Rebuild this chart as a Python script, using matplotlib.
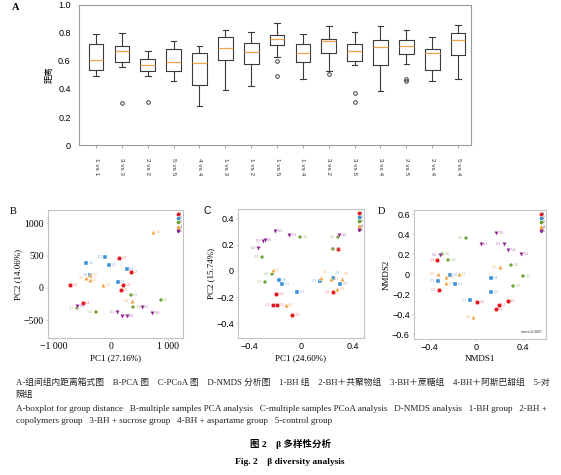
import matplotlib
matplotlib.use('Agg')
import matplotlib.pyplot as plt
from matplotlib.lines import Line2D

SERIF = ['Liberation Serif', 'Noto Sans CJK SC']
SANS = ['Liberation Sans', 'Noto Sans CJK SC']
plt.rcParams['font.family'] = SERIF
plt.rcParams['axes.unicode_minus'] = True

# ---------------------------------------------------------------------------
# Panel A: box statistics
# ---------------------------------------------------------------------------
PAIRS = ['1 vs 1', '3 vs 3', '2 vs 2', '5 vs 5', '4 vs 4', '1 vs 3', '1 vs 2', '1 vs 5',
         '1 vs 4', '3 vs 2', '3 vs 5', '3 vs 4', '2 vs 5', '2 vs 4', '5 vs 4']
A_WHISLO = [0.49, 0.555, 0.49, 0.46, 0.28, 0.395, 0.42, 0.63, 0.47, 0.53, 0.57, 0.385, 0.58, 0.455, 0.47]
A_Q1 = [0.535, 0.59, 0.53, 0.53, 0.43, 0.605, 0.58, 0.715, 0.59, 0.66, 0.60, 0.575, 0.65, 0.535, 0.64]
A_MED = [0.605, 0.675, 0.57, 0.59, 0.585, 0.69, 0.665, 0.76, 0.66, 0.74, 0.67, 0.70, 0.705, 0.655, 0.75]
A_Q3 = [0.72, 0.71, 0.615, 0.685, 0.66, 0.775, 0.73, 0.785, 0.72, 0.755, 0.725, 0.75, 0.75, 0.685, 0.80]
A_WHISHI = [0.79, 0.80, 0.67, 0.74, 0.71, 0.825, 0.81, 0.875, 0.79, 0.85, 0.805, 0.85, 0.825, 0.77, 0.86]
A_FLIERS = [[], [0.30], [0.31], [], [], [], [], [0.60, 0.49], [], [0.505], [0.37, 0.31], [],
            [0.47, 0.46], [], []]

# ---------------------------------------------------------------------------
# Panels B-D: ordination scores per group (1..5)
# ---------------------------------------------------------------------------
GROUPS = ['1', '2', '3', '4', '5']

B_X = [[-719, 140, 345, 216, 170, -497],
       [-99, -433, -29, 275, 117, -362],
       [345, 871, 392, -263, -596],
       [742, -362, -433, -374, -140, 363],
       [111, 193, 275, 538, 719, -591]]
B_Y = [[46, 464, 253, 52, -36, -227],
       [485, 387, 351, 289, 98, 205],
       [-113, -186, -289, -377, -305],
       [871, 205, 150, 124, 46, -201],
       [-377, -429, -429, -299, -392, -274]]
B_LAB = [['1-1', '1-3', '1-2', '1-6', '1-5', '1-4'],
         ['2-1', '2-2', '2-5', '2-4', '2-3', '2-6'],
         ['3-3', '3-5', '3-4', '3-2', '3-1'],
         ['4-5', '4-2', '4-6', '4-1', '4-3', '4-4'],
         ['5-1', '5-3', '5-5', '5-2', '5-6', '5-4']]
B_LEFT = ['3-1', '4-6', '2-6', '4-4', '2-1', '3-2', '5-1']
B_ABOVE = []

C_X = [[0.284, -0.194, -0.217, -0.183, -0.067, 0.245],
       [-0.168, -0.142, -0.028, 0.147, 0.25, 0.302],
       [-0.005, -0.299, -0.225, -0.276, 0.286, 0.25],
       [-0.217, -0.116, 0.157, 0.232, 0.32, 0.279],
       [-0.196, -0.088, -0.289, -0.28, -0.328, 0.297]]
C_Y = [[0.167, -0.18, -0.259, -0.262, -0.338, -0.159],
       [-0.072, -0.103, -0.159, -0.077, -0.056, -0.103],
       [0.259, 0.103, -0.02, -0.082, 0.256, 0.167],
       [0.008, -0.259, -0.051, -0.062, -0.062, -0.138],
       [0.308, 0.272, 0.231, 0.24, 0.174, 0.272]]
C_LAB = [['1-6', '1-4', '1-3', '1-1', '1-5', '1-2'],
         ['2-6', '2-3', '2-1', '2-5', '2-4', '2-2'],
         ['3-2', '3-4', '3-6', '3-1', '3-5', '3-3'],
         ['4-2', '4-4', '4-5', '4-1', '4-6', '4-3'],
         ['5-5', '5-1', '5-3', '5-6', '5-2', '5-4']]
C_LEFT = ['1-3', '3-1', '3-4', '2-5', '5-2', '5-3', '3-6', '1-6', '3-5', '1-2']
C_ABOVE = ['4-5', '2-4', '4-6']

D_X = [[-0.335, -0.324, 0.006, 0.192, 0.269, 0.166],
       [-0.226, -0.33, -0.183, 0.123, 0.126, -0.057],
       [-0.089, -0.292, -0.241, 0.298, 0.404, 0.315],
       [-0.33, -0.261, -0.152, -0.261, 0.203, -0.026],
       [0.172, 0.037, 0.235, 0.272, 0.387, -0.312]]
D_Y = [[0.143, -0.157, -0.28, -0.307, -0.267, -0.35],
       [-0.01, -0.073, -0.10, -0.04, -0.177, -0.263],
       [0.36, 0.20, 0.14, 0.09, -0.017, -0.117],
       [0.0, -0.027, 0.0, -0.087, 0.073, -0.43],
       [0.417, 0.30, 0.307, 0.243, 0.20, 0.187]]
D_LAB = [['1-4', '1-1', '1-6', '1-2', '1-3', '1-5'],
         ['2-6', '2-3', '2-1', '2-4', '2-5', '2-2'],
         ['3-2', '3-6', '3-4', '3-3', '3-5', '3-1'],
         ['4-6', '4-2', '4-3', '4-1', '4-5', '4-4'],
         ['5-5', '5-1', '5-3', '5-4', '5-2', '5-6']]
D_LEFT = ['5-6', '1-4', '2-3', '4-6', '1-1', '2-2', '4-4', '3-2', '4-5', '5-3']
D_ABOVE = []

# ---------------------------------------------------------------------------
# Styles
# ---------------------------------------------------------------------------
G_COLORS = ['#e0161c', '#3b8fd8', '#72a23a', '#f0a03c', '#8a1c8c']
G_LIGHT = ['#f07d80', '#86b8e8', '#a5c47e', '#f4bf7e', '#b677b8']
G_MARKERS = ['o', 's', 'P', '^', 'v']
SPINE = '#c4c4c4'

W, H = 561, 475
fig = plt.figure(figsize=(W / 100, H / 100), dpi=100)


def px_axes(left, top, right, bottom):
    return fig.add_axes([left / W, 1 - bottom / H, (right - left) / W, (bottom - top) / H])


# ---------------------------------------------------------------------------
# A: boxplot
# ---------------------------------------------------------------------------
axA = px_axes(79, 5, 471, 145)
stats = []
for i, name in enumerate(PAIRS):
    stats.append(dict(label=name, whislo=A_WHISLO[i], q1=A_Q1[i], med=A_MED[i],
                      q3=A_Q3[i], whishi=A_WHISHI[i], fliers=A_FLIERS[i]))
axA.bxp(stats, positions=range(1, len(PAIRS) + 1), widths=0.57, capwidths=0.22,
        boxprops=dict(color='#3a3a3a', lw=0.8),
        whiskerprops=dict(color='#3a3a3a', lw=0.8),
        capprops=dict(color='#3a3a3a', lw=0.8),
        medianprops=dict(color='#f5a04a', lw=0.9),
        flierprops=dict(marker='o', markersize=2.6, markerfacecolor='none',
                        markeredgecolor='#222222', markeredgewidth=0.6))
axA.set_xlim(0.34, 15.5)
axA.set_ylim(0, 1.0)
axA.set_yticks([0, 0.2, 0.4, 0.6, 0.8, 1.0])
axA.set_yticklabels(['0', '0.2', '0.4', '0.6', '0.8', '1.0'], family=SANS, fontsize=6.5)
axA.set_xticks(range(1, len(PAIRS) + 1))
axA.set_xticklabels(PAIRS, rotation=-90, family=SANS, fontsize=4.6, color='#333333')
axA.tick_params(axis='y', length=0, pad=6)
axA.tick_params(axis='x', length=2, width=0.5, color='#888888', pad=7)
for s in axA.spines.values():
    s.set_color('#9a9a9a')
    s.set_linewidth(0.8)
axA.set_ylabel('距离', family=['Noto Sans CJK SC'], fontsize=6, labelpad=3)
fig.text(12 / W, 1 - 7 / H, 'A', fontsize=7.5, fontweight='bold', va='center')


# ---------------------------------------------------------------------------
# B-D: ordination scatter
# ---------------------------------------------------------------------------
def scatter_panel(ax, xs, ys, labs, dx, left, above):
    for g in range(len(GROUPS)):
        ax.scatter(xs[g], ys[g], marker=G_MARKERS[g], s=11, color=G_COLORS[g],
                   edgecolors='white', linewidths=0.3, zorder=3)
        for x, y, t in zip(xs[g], ys[g], labs[g]):
            kw = dict(fontsize=2.6, color=G_LIGHT[g], family=SANS, zorder=4)
            if t in above:
                ax.annotate(t, (x, y), xytext=(1, 2.5), textcoords='offset points',
                            ha='left', va='bottom', **kw)
            elif t in left:
                ax.text(x - dx, y, t, va='center', ha='right', **kw)
            else:
                ax.text(x + dx, y, t, va='center', ha='left', **kw)
    handles = [Line2D([], [], ls='none', marker=G_MARKERS[g], color=G_COLORS[g],
                      markersize=1.8, label=GROUPS[g]) for g in range(len(GROUPS))]
    ax.legend(handles=handles, loc='upper right', fontsize=2.2, frameon=False,
              handletextpad=0.1, labelspacing=0.1, borderaxespad=0.4,
              handlelength=0.6, borderpad=0.2)
    for s in ax.spines.values():
        s.set_color(SPINE)
        s.set_linewidth(0.8)
    ax.tick_params(length=1.5, width=0.5, color=SPINE, pad=1.5)


axB = px_axes(48, 210, 183, 338)
scatter_panel(axB, B_X, B_Y, B_LAB, 45, B_LEFT, B_ABOVE)
axB.set_xlim(-1105, 1263)
axB.set_ylim(-774, 1207)
axB.set_xticks([-1000, 0, 1000])
axB.set_xticklabels(['−1 000', '0', '1 000'], fontsize=7)
axB.set_yticks([-500, 0, 500, 1000])
axB.set_yticklabels(['−500', '0', '500', '1000'], fontsize=7)
axB.set_xlabel('PC1 (27.16%)', fontsize=6.5, labelpad=2)
axB.set_ylabel('PC2 (14.06%)', fontsize=6.5, labelpad=1)
fig.text(10 / W, 1 - 212 / H, 'B', fontsize=7.5, va='center')

axC = px_axes(238, 209, 364, 338)
scatter_panel(axC, C_X, C_Y, C_LAB, 0.02, C_LEFT, C_ABOVE)
axC.set_xlim(-0.485, 0.488)
axC.set_ylim(-0.513, 0.474)
axC.set_xticks([-0.4, 0, 0.4])
axC.set_xticklabels(['−0.4', '0', '0.4'], family=SANS, fontsize=6.5)
axC.set_yticks([-0.4, -0.2, 0, 0.2, 0.4])
axC.set_yticklabels(['−0.4', '−0.2', '0', '0.2', '0.4'], family=SANS, fontsize=6.5)
axC.set_xlabel('PC1 (24.60%)', fontsize=6.5, labelpad=2)
axC.set_ylabel('PC2 (15.74%)', fontsize=6.5, labelpad=1)
fig.text(204 / W, 1 - 211 / H, 'C', fontsize=7.5, va='center', family=SANS)

axD = px_axes(414, 210, 546, 339)
scatter_panel(axD, D_X, D_Y, D_LAB, 0.022, D_LEFT, D_ABOVE)
axD.set_xlim(-0.535, 0.598)
axD.set_ylim(-0.65, 0.643)
axD.set_xticks([-0.4, 0, 0.4])
axD.set_xticklabels(['−0.4', '0', '0.4'], family=SANS, fontsize=6.5)
axD.set_yticks([-0.6, -0.4, -0.2, 0, 0.2, 0.4, 0.6])
axD.set_yticklabels(['−0.6', '−0.4', '−0.2', '0', '0.2', '0.4', '0.6'], family=SANS, fontsize=6.5)
axD.set_xlabel('NMDS1', fontsize=6.5, labelpad=2)
axD.set_ylabel('NMDS2', fontsize=6.5, labelpad=1)
axD.text(0.97, 0.04, 'stress=0.0807', transform=axD.transAxes, fontsize=2.4,
         ha='right', va='bottom', color='#333333', family=SANS)
fig.text(378 / W, 1 - 212 / H, 'D', fontsize=7.5, va='center')

# ---------------------------------------------------------------------------
# Caption
# ---------------------------------------------------------------------------
CAP_CN = ('A-组间组内距离箱式图　B-PCA 图　C-PCoA 图　D-NMDS 分析图　1-BH 组　'
          '2-BH＋共聚物组　3-BH＋蔗糖组　4-BH＋阿斯巴甜组　5-对')
CAP_CN2 = '照组'
CAP_EN = ('A-boxplot for group distance   B-multiple samples PCA analysis   '
          'C-multiple samples PCoA analysis   D-NMDS analysis   1-BH group   2-BH +')
CAP_EN2 = 'copolymers group   3-BH + sucrose group   4-BH + aspartame group   5-control group'

for y, t, fs in [(382, CAP_CN, 6.3), (395, CAP_CN2, 6.3), (409, CAP_EN, 6.6), (421, CAP_EN2, 6.6)]:
    fig.text(16 / W, 1 - y / H, t, fontsize=fs, va='center', ha='left', color='#222222')
fig.text(290 / W, 1 - 444 / H, '图 2　β 多样性分析', fontsize=6.8, fontweight='bold',
         ha='center', va='center')
fig.text(290 / W, 1 - 462 / H, 'Fig. 2　β diversity analysis', fontsize=6.8,
         fontweight='bold', ha='center', va='center')

fig.savefig('out.png', dpi=100)
